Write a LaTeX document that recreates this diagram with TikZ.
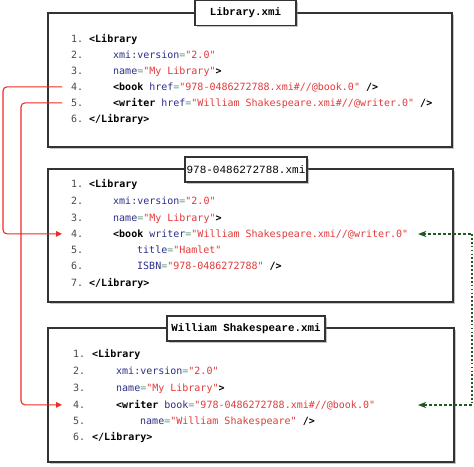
\documentclass[tikz,border=0pt]{standalone}
\usepackage{fontspec}
\usepackage[dvipsnames]{xcolor}
\usetikzlibrary{positioning,shadows,arrows.meta}

\newfontfamily\codefont{DejaVu Sans Mono}
\newfontfamily\titlefont{Liberation Mono}

\definecolor{attrblue}{HTML}{2E2E8A}
\definecolor{valred}{HTML}{E23B3B}
\definecolor{eqgreen}{HTML}{5C9C7C}
\definecolor{numgray}{HTML}{4A4A4A}
\definecolor{linkred}{HTML}{EE2A24}
\definecolor{linkgreen}{HTML}{1F5A22}
\definecolor{boxgray}{HTML}{333333}

\newcommand{\xtag}[1]{\textbf{#1}}
\newcommand{\xatt}[1]{\textcolor{attrblue}{#1}}
\newcommand{\xeq}{\textcolor{eqgreen}{=}}
\newcommand{\xval}[1]{\textcolor{valred}{"#1"}}

\begin{document}
\begin{tikzpicture}[x=1pt,y=-1pt,>=Stealth,
    file box/.style={draw=boxgray,line width=1.3pt,fill=white,
        drop shadow={shadow xshift=1.5pt,shadow yshift=-1.5pt,opacity=.45}},
    file title/.style={draw=boxgray,line width=1.3pt,fill=white,minimum height=25pt,inner sep=0pt,
        drop shadow={shadow xshift=1.5pt,shadow yshift=-1.5pt,opacity=.45},
        font=\titlefont\bfseries\fontsize{10.8}{12}\selectfont},
    num/.style={anchor=base west,inner sep=0pt,text=numgray,font=\codefont\fontsize{10}{12}\selectfont},
    codeline/.style={anchor=base west,inner sep=0pt,font=\codefont\fontsize{10}{12}\selectfont},
    red link/.style={linkred,line width=1.1pt,rounded corners=4pt,
        -{Triangle[length=6pt,width=5.5pt]},shorten <=9pt,shorten >=9pt},
    green dash/.style={linkgreen,line width=1.2pt,dash pattern=on 3pt off 2pt,
        arrows={-Stealth[length=5pt,width=4.5pt]}},
    green dot/.style={linkgreen,line width=1.7pt,dash pattern=on 1.7pt off 2.2pt}]

    \useasboundingbox (0,0) rectangle (474,466);

    % the three files
    \node[file box,minimum width=404pt,minimum height=134pt] (fa) at (250,80) {};
    \node[file box,minimum width=405pt,minimum height=133pt] (fb) at (250.5,235.5) {};
    \node[file box,minimum width=406pt,minimum height=134pt] (fc) at (251,395) {};

    \node[file title,minimum width=101pt] (ta) at (245.5,13) {Library.xmi};
    \node[file title,minimum width=122pt,font=\titlefont\fontsize{11}{12}\selectfont] (tb) at (246,169.5) {978-0486272788.xmi};
    \node[file title,minimum width=158pt] (tc) at (246,328.5) {William Shakespeare.xmi};

    % Library.xmi
    \node[num] (a1) at (71,42.5) {1.};
    \node[num] (a2) at (71,58.5) {2.};
    \node[num] (a3) at (71,74.5) {3.};
    \node[num] (a4) at (71,90.5) {4.};
    \node[num] (a5) at (71,106.5) {5.};
    \node[num] (a6) at (71,122) {6.};
    \node[codeline] (ca1) at (89,42.5) {\xtag{<Library}};
    \node[codeline] (ca2) at (113,58.5) {\xatt{xmi:version}\xeq\xval{2.0}};
    \node[codeline] (ca3) at (113,74.5) {\xatt{name}\xeq\xval{My Library}\xtag{>}};
    \node[codeline] (ca4) at (113,90.5) {\xtag{<book} \xatt{href}\xeq\xval{978-0486272788.xmi\#//@book.0} \xtag{/>}};
    \node[codeline] (ca5) at (113,106.5) {\xtag{<writer} \xatt{href}\xeq\xval{William Shakespeare.xmi\#//@writer.0} \xtag{/>}};
    \node[codeline] (ca6) at (89,122) {\xtag{</Library>}};

    % 978-0486272788.xmi
    \node[num] (b1) at (71,187.5) {1.};
    \node[num] (b2) at (71,204.5) {2.};
    \node[num] (b3) at (71,221.5) {3.};
    \node[num] (b4) at (71,237.5) {4.};
    \node[num] (b5) at (71,253.5) {5.};
    \node[num] (b6) at (71,269.5) {6.};
    \node[num] (b7) at (71,286.5) {7.};
    \node[codeline] (cb1) at (89,187.5) {\xtag{<Library}};
    \node[codeline] (cb2) at (113,204.5) {\xatt{xmi:version}\xeq\xval{2.0}};
    \node[codeline] (cb3) at (113,221.5) {\xatt{name}\xeq\xval{My Library}\xtag{>}};
    \node[codeline] (cb4) at (113,237.5) {\xtag{<book} \xatt{writer}\xeq\xval{William Shakespeare.xmi//@writer.0}};
    \node[codeline] (cb5) at (137,253.5) {\xatt{title}\xeq\xval{Hamlet}};
    \node[codeline] (cb6) at (137,269.5) {\xatt{ISBN}\xeq\xval{978-0486272788} \xtag{/>}};
    \node[codeline] (cb7) at (89,286.5) {\xtag{</Library>}};

    % William Shakespeare.xmi
    \node[num] (c1) at (73,357.5) {1.};
    \node[num] (c2) at (73,374.5) {2.};
    \node[num] (c3) at (73,391.5) {3.};
    \node[num] (c4) at (73,408.5) {4.};
    \node[num] (c5) at (73,424.5) {5.};
    \node[num] (c6) at (73,440.5) {6.};
    \node[codeline] (cc1) at (92,357.5) {\xtag{<Library}};
    \node[codeline] (cc2) at (116,374.5) {\xatt{xmi:version}\xeq\xval{2.0}};
    \node[codeline] (cc3) at (116,391.5) {\xatt{name}\xeq\xval{My Library}\xtag{>}};
    \node[codeline] (cc4) at (116,408.5) {\xtag{<writer} \xatt{book}\xeq\xval{978-0486272788.xmi\#//@book.0}};
    \node[codeline] (cc5) at (140,424.5) {\xatt{name}\xeq\xval{William Shakespeare} \xtag{/>}};
    \node[codeline] (cc6) at (92,440.5) {\xtag{</Library>}};

    % href links
    \coordinate (bendA) at (3,160);
    \coordinate (bendB) at (21,250);
    \draw[red link] (a4.west) -| (bendA) |- (b4.west);
    \draw[red link,shorten >=11pt] (a5.west) -| (bendB) |- (c4.west);

    % back reference
    \coordinate (gEndB) at (418,234);
    \coordinate (gTurnB) at (472,234);
    \coordinate (gTurnC) at (472,405);
    \coordinate (gEndC) at (418,405);
    \draw[green dash,<-] (gEndB) -- (gTurnB);
    \draw[green dot] (gTurnB) -- (gTurnC);
    \draw[green dash,->] (gTurnC) -- (gEndC);
\end{tikzpicture}
\end{document}
